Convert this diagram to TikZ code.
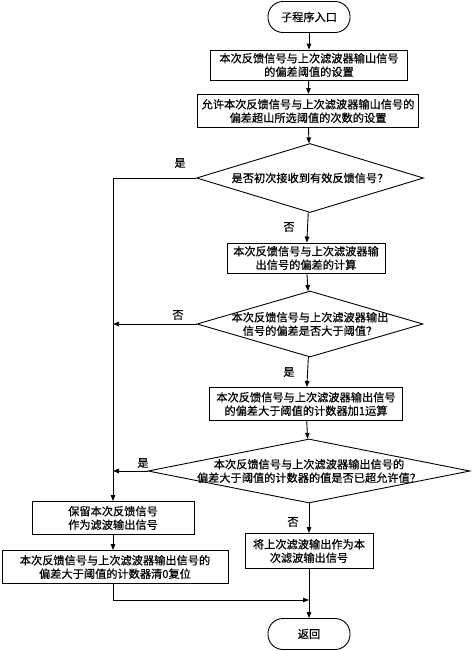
\documentclass[tikz,border=0pt]{standalone}
\usepackage{fontspec}
\newfontfamily\cjk[FakeBold=0.6]{Noto Sans CJK SC}
\usetikzlibrary{arrows.meta}
\usetikzlibrary{shapes.geometric}

\begin{document}
\begin{tikzpicture}[x=1pt,y=-1pt,
	txt/.style={font=\cjk\fontsize{11.2}{13.5}\selectfont,align=center},
	box/.style={draw,line width=0.9pt,txt,inner sep=1pt},
	term/.style={box,rounded corners=15,minimum width=82,minimum height=31},
	decision/.style={draw,diamond,line width=0.9pt,inner sep=0pt},
	arr/.style={-{Triangle[length=6,width=4.5]},line width=0.9pt},
	lbl/.style={txt,inner sep=0pt}]
		\useasboundingbox (0,0) rectangle (474,651);
		% main column
		\node[term] (start) at (309,17) {子程序入口};
		\node[box,minimum width=197,minimum height=30] (thr) at (309,65) {本次反馈信号与上次滤波器输山信号\\的偏差阈值的设置};
		\node[box,minimum width=221,minimum height=33] (cnt) at (308,111) {允许本次反馈信号与上次滤波器输山信号的\\偏差超山所选阈值的次数的设置};
		\node[decision,minimum width=227,minimum height=69,label={[txt]center:是否初次接收到有效反馈信号？}] (first) at (310,178) {};
		\node[box,minimum width=158,minimum height=30] (calc) at (306,258) {本次反馈信号与上次滤波器输\\出信号的偏差的计算};
		\node[decision,minimum width=226,minimum height=66,label={[txt]center:本次反馈信号与上次滤波器输出\\信号的偏差是否大于阈值？}] (over) at (310,324) {};
		\node[box,minimum width=193,minimum height=33] (inc) at (306,404) {本次反馈信号与上次滤波器输出信号\\的偏差大于阈值的计数器加1运算};
		\node[decision,minimum width=322,minimum height=64,label={[txt]center:本次反馈信号与上次滤波器输出信号的\\偏差大于阈值的计数器的值是否已超允许值？}] (lim) at (309,471) {};
		\node[box,minimum width=128,minimum height=35] (prev) at (309,551) {将上次滤波输出作为本\\次滤波输出信号};
		\node[term] (ret) at (309,634) {返回};
		% left column
		\node[box,minimum width=162,minimum height=33] (keep) at (113,518) {保留本次反馈信号\\作为滤波输出信号};
		\node[box,minimum width=226,minimum height=33] (clr) at (115,567) {本次反馈信号与上次滤波器输出信号的\\偏差大于阈值的计数器清0复位};
		\coordinate (join) at (309,600);
		% labels
		\node[lbl] at (180,163) {是};
		\node[lbl] at (289,227) {否};
		\node[lbl] at (178,315) {否};
		\node[lbl] at (289,372) {是};
		\node[lbl] at (143,463) {是};
		\node[lbl] at (293,522) {否};
		% connectors
		\draw[arr] (start) -- (thr);
		\draw[arr] (thr) -- (cnt);
		\draw[arr] (cnt) -- (first);
		\draw[arr] (first) -- (calc);
		\draw[arr] (calc) -- (over);
		\draw[arr] (over) -- (inc);
		\draw[arr] (inc) -- (lim);
		\draw[arr] (lim) -- (prev);
		\draw[arr] (prev) -- (ret);
		\draw[arr] (first.west) -- (first.west -| keep.north) -- (keep.north);
		\draw[arr] (over.west) -- (over.west -| keep.north);
		\draw[arr] (lim.west) -- (lim.west -| keep.north);
		\draw[arr] (keep.south) -- (keep.south |- clr.north);
		\draw[arr] (keep.south |- clr.south) |- (join);
\end{tikzpicture}
\end{document}
